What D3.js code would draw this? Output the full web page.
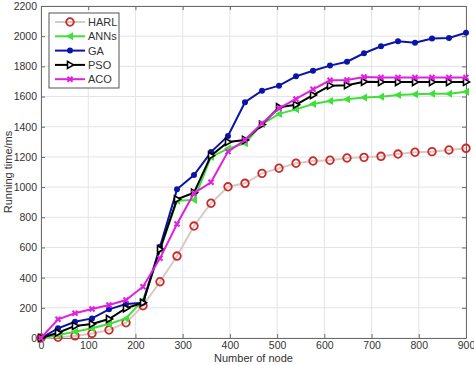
<!DOCTYPE html>
<meta charset="utf-8">
<style>
  body { margin: 0; background: #fff; }
  svg text { font-family: "Liberation Sans", Arial, sans-serif; }
  .grid line { stroke: #e4e4e4; stroke-width: 1; }
  .axis path, .axis line { stroke: #6a6a6a; }
  .axis text { fill: #333; font-size: 10.5px; }
</style>
<svg width="474" height="365"></svg>
<script src="https://d3js.org/d3.v7.min.js"></script>
<script>
// node counts (x values)
var nodes = [0, 36, 72, 108, 144, 180, 216, 252, 288, 324, 360, 396, 432, 468, 504,
             540, 576, 612, 648, 684, 720, 756, 792, 828, 864, 900];

// running times (ms)
var harl = [0, 5, 14, 30, 53, 101, 214, 373, 543, 742, 893, 1002, 1025, 1091, 1125,
            1158, 1173, 1178, 1193, 1197, 1204, 1219, 1231, 1235, 1246, 1257];
var anns = [0, 20, 42, 64, 93, 130, 252, 583, 910, 915, 1200, 1255, 1290, 1417, 1485,
            1515, 1551, 1571, 1582, 1593, 1599, 1610, 1615, 1619, 1619, 1632];
var ga   = [0, 64, 108, 130, 190, 225, 234, 605, 985, 1080, 1232, 1339, 1562, 1639, 1672,
            1734, 1771, 1805, 1831, 1887, 1933, 1966, 1957, 1984, 1988, 2023];
var pso  = [0, 35, 80, 93, 126, 197, 234, 588, 919, 963, 1208, 1299, 1312, 1414, 1529,
            1546, 1610, 1672, 1675, 1698, 1696, 1696, 1696, 1696, 1696, 1697];
var aco  = [0, 124, 164, 192, 219, 252, 340, 528, 755, 959, 1032, 1235, 1312, 1422, 1522,
            1584, 1648, 1708, 1710, 1730, 1727, 1727, 1727, 1727, 1727, 1727];

var seriesNames = ["HARL", "ANNs", "GA", "PSO", "ACO"];
var xTicks = [0, 100, 200, 300, 400, 500, 600, 700, 800, 900];
var yTicks = [0, 200, 400, 600, 800, 1000, 1200, 1400, 1600, 1800, 2000, 2200];

var series = [
  {name: seriesNames[0], values: harl, line: "#d9c9c6", color: "#cc2a2a", marker: "circle"},
  {name: seriesNames[1], values: anns, line: "#3fe03a", color: "#3fe03a", marker: "left"},
  {name: seriesNames[2], values: ga,   line: "#0c14a8", color: "#0c14a8", marker: "dot"},
  {name: seriesNames[3], values: pso,  line: "#000000", color: "#000000", marker: "right"},
  {name: seriesNames[4], values: aco,  line: "#e020e0", color: "#e020e0", marker: "x"}
];

var svg = d3.select("svg");
var pLeft = 41, pRight = 466, pTop = 6, pBottom = 338;

var x = d3.scaleLinear().domain([0, 900]).range([pLeft, pRight]);
var y = d3.scaleLinear().domain([0, 2200]).range([pBottom, pTop]);

// grid
var grid = svg.append("g").attr("class", "grid");
grid.selectAll(".gx").data(xTicks).enter().append("line")
  .attr("x1", function (d) { return x(d); }).attr("x2", function (d) { return x(d); })
  .attr("y1", pTop).attr("y2", pBottom);
grid.selectAll(".gy").data(yTicks).enter().append("line")
  .attr("y1", function (d) { return y(d); }).attr("y2", function (d) { return y(d); })
  .attr("x1", pLeft).attr("x2", pRight);

// axes (ticks pointing inward, matlab style)
svg.append("g").attr("class", "axis")
  .attr("transform", "translate(0," + pBottom + ")")
  .call(d3.axisBottom(x).tickValues(xTicks).tickSizeInner(-4).tickSizeOuter(0).tickPadding(4));
svg.append("g").attr("class", "axis")
  .attr("transform", "translate(" + pLeft + ",0)")
  .call(d3.axisLeft(y).tickValues(yTicks).tickFormat(d3.format("d"))
    .tickSizeInner(-4).tickSizeOuter(0).tickPadding(4));
svg.append("g").attr("class", "axis")
  .attr("transform", "translate(0," + pTop + ")")
  .call(d3.axisTop(x).tickValues(xTicks).tickSizeInner(-4).tickSizeOuter(0).tickFormat(""));
svg.append("g").attr("class", "axis")
  .attr("transform", "translate(" + pRight + ",0)")
  .call(d3.axisRight(y).tickValues(yTicks).tickSizeInner(-4).tickSizeOuter(0).tickFormat(""));

// axis titles
svg.append("text").attr("x", (pLeft + pRight) / 2).attr("y", 362)
  .attr("text-anchor", "middle").attr("font-size", 11).attr("fill", "#333")
  .text("Number of node");
svg.append("text").attr("transform", "translate(12," + ((pTop + pBottom) / 2) + ") rotate(-90)")
  .attr("text-anchor", "middle").attr("font-size", 11).attr("fill", "#333")
  .text("Running time/ms");

function drawMarker(g, type, color) {
  if (type === "circle") {
    g.append("circle").attr("r", 3.8).attr("fill", "none").attr("stroke", color).attr("stroke-width", 1.8);
  } else if (type === "dot") {
    g.append("circle").attr("r", 3).attr("fill", color);
  } else if (type === "left") {
    g.append("path").attr("d", "M-4,0L3,-4L3,4Z").attr("fill", color);
  } else if (type === "right") {
    g.append("path").attr("d", "M3.5,0L-2.5,-3.5L-2.5,3.5Z").attr("fill", "#fff")
      .attr("stroke", color).attr("stroke-width", 1.6);
  } else if (type === "x") {
    g.append("path").attr("d", "M-2.5,-2.5L2.5,2.5M-2.5,2.5L2.5,-2.5").attr("stroke", color).attr("stroke-width", 2);
  }
}

var line = d3.line()
  .x(function (d) { return x(d[0]); })
  .y(function (d) { return y(d[1]); });

series.forEach(function (s) {
  var pts = nodes.map(function (n, i) { return [n, s.values[i]]; });
  var g = svg.append("g");
  g.append("path").datum(pts).attr("d", line)
    .attr("fill", "none").attr("stroke", s.line).attr("stroke-width", 2);
  g.selectAll("g").data(pts).enter().append("g")
    .attr("transform", function (d) { return "translate(" + x(d[0]) + "," + y(d[1]) + ")"; })
    .each(function () { drawMarker(d3.select(this), s.marker, s.color); });
});

// legend
var lg = svg.append("g").attr("transform", "translate(49,13)");
lg.append("rect").attr("width", 70).attr("height", 75)
  .attr("fill", "#fff").attr("stroke", "#555").attr("stroke-width", 1);
series.forEach(function (s, i) {
  var row = lg.append("g").attr("transform", "translate(0," + (9 + i * 14.3) + ")");
  row.append("line").attr("x1", 6).attr("x2", 36).attr("stroke", s.line).attr("stroke-width", 2);
  var m = row.append("g").attr("transform", "translate(21,0)");
  drawMarker(m, s.marker, s.color);
  row.append("text").attr("x", 39).attr("y", 4).attr("font-size", 11).attr("fill", "#333").text(s.name);
});
</script>
